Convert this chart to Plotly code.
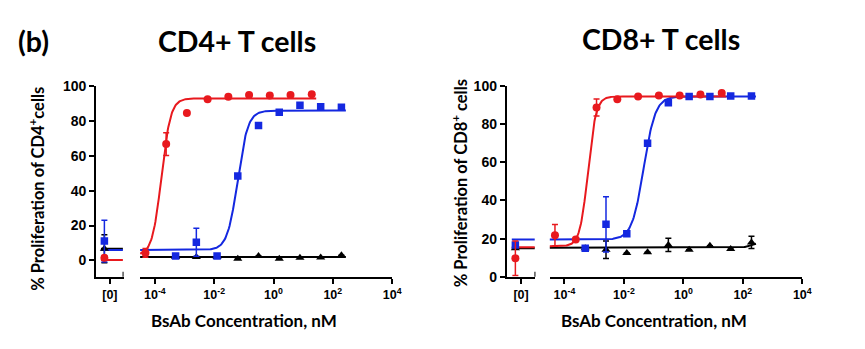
import numpy as np
import plotly.graph_objects as go

# ---------------- data ----------------
# BsAb concentrations (nM) for the two constructs
red_conc = [4.8e-5, 2.4e-4, 1.2e-3, 6.0e-3, 0.030, 0.15, 0.75, 3.75, 19.5]
blue_conc = [5.0e-4, 2.5e-3, 0.0125, 0.0625, 0.3125, 1.5625, 7.8, 39.0, 195.0]
black_conc = blue_conc

# CD4+ T cells (% proliferation)
cd4_red = [4.3, 66.8, 84.7, 92.5, 93.9, 95.0, 94.7, 95.0, 95.4]
cd4_red_err = [2.5, 6.5, 0, 0, 0, 0, 0, 0, 0]
cd4_blue = [2.5, 10.4, 2.5, 48.4, 77.4, 85.1, 89.1, 88.2, 88.0]
cd4_blue_err = [0, 8.0, 0, 0, 0, 0, 0, 0, 0]
cd4_black = [1.9, 1.9, 1.9, 1.0, 2.5, 1.0, 1.5, 1.7, 2.9]
cd4_black_err = [0, 0, 0, 0, 0, 0, 0, 0, 0]

# CD8+ T cells (% proliferation)
cd8_red = [21.7, 19.5, 88.7, 93.0, 94.5, 95.0, 95.0, 95.5, 96.3]
cd8_red_err = [5.7, 0, 4.5, 0, 0, 0, 0, 0, 0]
cd8_blue = [15.0, 27.5, 22.5, 70.0, 91.2, 94.5, 94.5, 94.7, 94.7]
cd8_blue_err = [0, 14.5, 0, 0, 0, 0, 0, 0, 0]
cd8_black = [15.0, 14.2, 12.5, 12.8, 16.7, 14.2, 16.3, 14.5, 18.0]
cd8_black_err = [0, 4.6, 0, 0, 3.5, 0, 0, 0, 3.2]

# zero-dose controls ([0] on the broken axis): mean, error, baseline level
cd4_zero = {"red": (1.5, 1.0, 0.3), "blue": (11.1, 12.0, 6.0), "black": (6.7, 8.0, 6.7)}
cd8_zero = {"red": (9.7, 9.0, 15.5), "blue": (16.7, 0.0, 19.5), "black": (15.0, 0.0, 15.0)}

# four-parameter logistic fits: bottom, top, logEC50, hill slope
cd4_fits = {"red": (3.0, 93.0, -3.78, 2.8), "blue": (6.0, 86.0, -1.21, 2.5), "black": (2.0, 2.0, 0.0, 1.0)}
cd8_fits = {"red": (16.0, 94.5, -3.21, 3.2), "blue": (19.5, 94.5, -1.335, 2.2), "black": (15.2, 18.5, 2.35, 3.0)}

tick_vals = [1e-4, 1e-2, 1e0, 1e2, 1e4]
tick_text = ["10<sup>-4</sup>", "10<sup>-2</sup>", "10<sup>0</sup>", "10<sup>2</sup>", "10<sup>4</sup>"]

COLORS = {"red": "#e8191e", "blue": "#1428e0", "black": "#000000"}
SYMBOLS = {"red": "circle", "blue": "square", "black": "triangle-up"}
SIZES = {"red": 8, "blue": 7.5, "black": 8}
LOG_MIN = -4.5


def logistic(logx, bottom, top, logec50, hill):
    return bottom + (top - bottom) / (1.0 + 10 ** ((logec50 - logx) * hill))


fig = go.Figure()


def add_panel(xz, xm, ya, series, fits, zero):
    # fitted curves
    for key in ["black", "blue", "red"]:
        conc = series[key][0]
        lx = np.linspace(LOG_MIN, np.log10(max(conc)) + 0.15, 300)
        fig.add_trace(go.Scatter(
            x=10 ** lx, y=logistic(lx, *fits[key]), mode="lines",
            line=dict(color=COLORS[key], width=2), xaxis=xm, yaxis=ya,
            hoverinfo="skip", showlegend=False))
    # zero-dose baselines
    for key in ["black", "red", "blue"]:
        lvl = zero[key][2]
        fig.add_trace(go.Scatter(
            x=[-0.65, 0.95], y=[lvl, lvl], mode="lines",
            line=dict(color=COLORS[key], width=2), xaxis=xz, yaxis=ya,
            hoverinfo="skip", showlegend=False))
    # data points with error bars
    for key in ["black", "blue", "red"]:
        conc, vals, errs = series[key]
        fig.add_trace(go.Scatter(
            x=conc, y=vals, mode="markers",
            marker=dict(symbol=SYMBOLS[key], size=SIZES[key], color=COLORS[key]),
            error_y=dict(type="data", array=errs, visible=True,
                         color=COLORS[key], thickness=1.5, width=3),
            xaxis=xm, yaxis=ya, showlegend=False))
        m, e, _ = zero[key]
        fig.add_trace(go.Scatter(
            x=[-0.4], y=[m], mode="markers",
            marker=dict(symbol=SYMBOLS[key], size=SIZES[key], color=COLORS[key]),
            error_y=dict(type="data", array=[e], visible=e > 0,
                         color=COLORS[key], thickness=1.5, width=3),
            xaxis=xz, yaxis=ya, showlegend=False))


add_panel("x", "x2", "y",
          {"red": (red_conc, cd4_red, cd4_red_err),
           "blue": (blue_conc, cd4_blue, cd4_blue_err),
           "black": (black_conc, cd4_black, cd4_black_err)},
          cd4_fits, cd4_zero)
add_panel("x3", "x4", "y2",
          {"red": (red_conc, cd8_red, cd8_red_err),
           "blue": (blue_conc, cd8_blue, cd8_blue_err),
           "black": (black_conc, cd8_black, cd8_black_err)},
          cd8_fits, cd8_zero)

W, H = 865, 349
axis_common = dict(showline=True, linecolor="black", linewidth=2, ticks="outside",
                   ticklen=5, tickwidth=2, tickcolor="black", showgrid=False,
                   zeroline=False, mirror=False,
                   tickfont=dict(family="Liberation Sans", size=12.5, color="black", weight="bold"))

zero_axis = dict(axis_common, type="linear", range=[-1, 1], tickvals=[0], ticktext=["[0]"])
main_axis = dict(axis_common, type="log", range=[LOG_MIN, 4], tickvals=tick_vals, ticktext=tick_text)
y_axis = dict(axis_common, tickvals=[0, 20, 40, 60, 80, 100], ticklen=5)
y_axis["tickfont"] = dict(family="Liberation Sans", size=14, color="black", weight="bold")

fig.update_layout(
    width=W, height=H, margin=dict(l=0, r=0, t=0, b=0),
    paper_bgcolor="white", plot_bgcolor="rgba(0,0,0,0)",
    xaxis=dict(zero_axis, domain=[97.3 / W, 125 / W], anchor="y"),
    xaxis2=dict(main_axis, domain=[141.7 / W, 396.7 / W], anchor="y"),
    xaxis3=dict(zero_axis, domain=[512.7 / W, 541.7 / W], anchor="y2"),
    xaxis4=dict(main_axis, domain=[556 / W, 811.7 / W], anchor="y2"),
    yaxis=dict(y_axis, domain=[(H - 281.7) / H, (H - 82) / H], range=[-9.4, 100], anchor="x"),
    yaxis2=dict(y_axis, domain=[(H - 281.7) / H, (H - 81.7) / H], range=[0, 100], anchor="x3"),
)

# break caps at the ends of the axis segments
for xr, xv, yr, ybase in [("x", 1, "y", -9.4), ("x2", LOG_MIN, "y", -9.4),
                          ("x3", 1, "y2", 0), ("x4", LOG_MIN, "y2", 0)]:
    fig.add_shape(type="line", xref=xr, yref=yr, x0=xv, x1=xv,
                  ysizemode="pixel", yanchor=ybase, y0=-5, y1=5,
                  line=dict(color="black", width=2))

title_font = dict(family="Lato", size=28.5, color="black", weight="bold")
label_font = dict(family="Lato", size=17, color="black", weight="bold")
ylabel_font = dict(family="Lato", size=16.5, color="black", weight="bold")


def px_ann(text, x, y, font, angle=0, xanchor="center"):
    fig.add_annotation(text=text, x=x / W, y=1 - y / H, xref="paper", yref="paper",
                       showarrow=False, font=font, textangle=angle,
                       xanchor=xanchor, yanchor="middle")


px_ann("(b)", 16, 35, title_font, xanchor="left")
px_ann("CD4+ T cells", 240, 35, title_font)
px_ann("CD8+ T cells", 669, 33, title_font)
px_ann("% Proliferation of CD4<sup>+</sup>cells", 38, 190, ylabel_font, angle=-90)
px_ann("% Proliferation of CD8<sup>+</sup> cells", 465, 184, ylabel_font, angle=-90)
px_ann("BsAb Concentration, nM", 247, 328, label_font)
px_ann("BsAb Concentration, nM", 662, 328, label_font)

fig.write_html("out.html")
